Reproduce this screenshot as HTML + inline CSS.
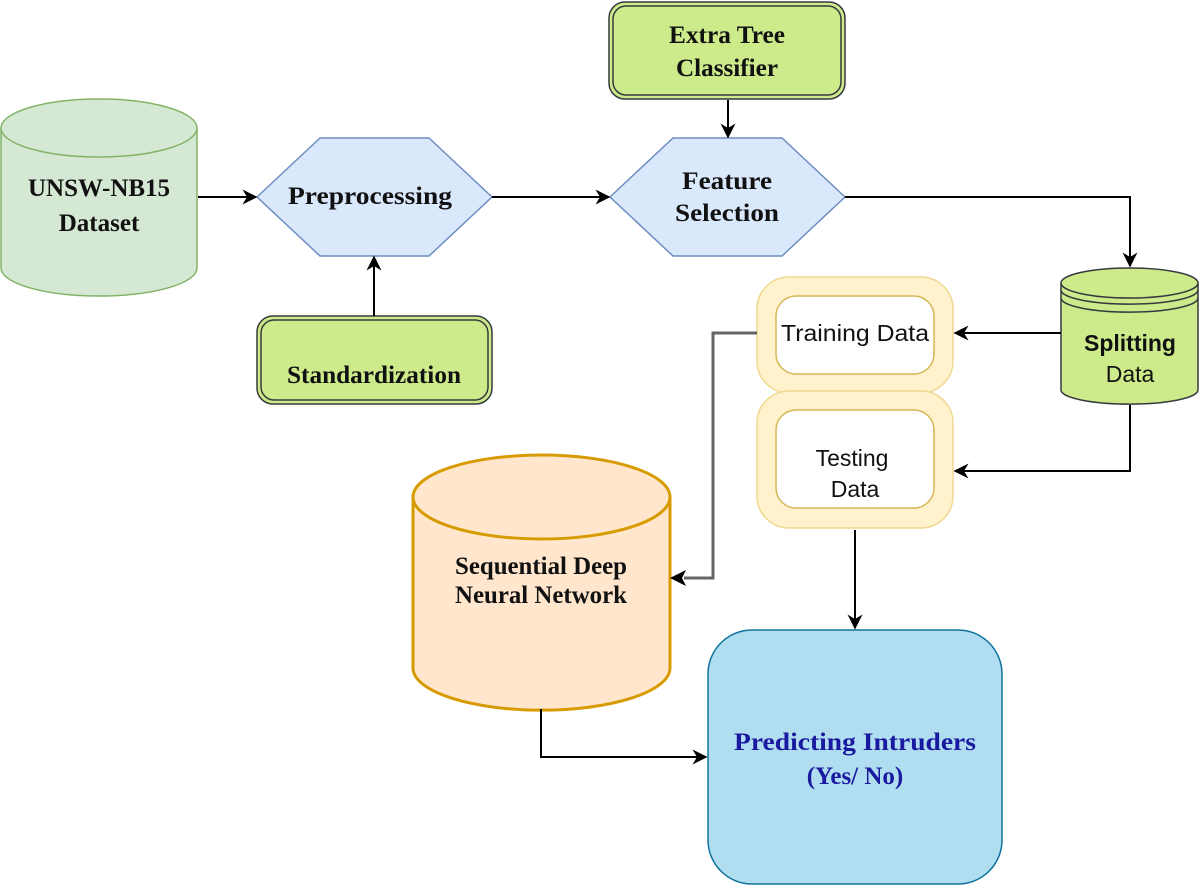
<!DOCTYPE html>
<html><head><meta charset="utf-8"><style>
html,body{margin:0;padding:0;background:#fff;width:1200px;height:886px;overflow:hidden}
svg{display:block}
.s{font-family:"Liberation Serif",serif;font-weight:bold;font-size:25px;fill:#111;text-anchor:middle}
.a{font-family:"Liberation Sans",sans-serif;font-size:23px;fill:#111;text-anchor:middle}
</style></head><body>
<svg width="1200" height="886" viewBox="0 0 1200 886">
<defs>
<marker id="m2" viewBox="0 0 10 10" refX="9" refY="5" markerWidth="15" markerHeight="15" orient="auto" markerUnits="userSpaceOnUse"><path d="M0,0 L10,5 L0,10 L3,5 Z" fill="#000"/></marker></defs>

<!-- UNSW cylinder -->
<path d="M1,128 L1,268 A98,28 0 0 0 197,268 L197,128" fill="#d5e8d4" stroke="#82b366" stroke-width="1.5"/>
<ellipse cx="99" cy="128" rx="98" ry="29" fill="#d5e8d4" stroke="#82b366" stroke-width="1.5"/>
<text class="s" x="99" y="196" font-size="24" textLength="142" lengthAdjust="spacingAndGlyphs">UNSW-NB15</text>
<text class="s" x="99" y="231" font-size="24">Dataset</text>

<!-- Preprocessing -->
<polygon points="257,197 320,138 429,138 492,197 429,256 320,256" fill="#dae8fc" stroke="#6c8ebf" stroke-width="1.5"/>
<text class="s" x="370" y="204" textLength="164" lengthAdjust="spacingAndGlyphs">Preprocessing</text>

<!-- Standardization -->
<rect x="257" y="316" width="235" height="88" rx="16" fill="#cdeb8b" stroke="#36393d" stroke-width="1.5"/>
<rect x="261" y="320" width="227" height="80" rx="13" fill="none" stroke="#36393d" stroke-width="1.5"/>
<text class="s" x="374" y="383" font-size="24" textLength="174" lengthAdjust="spacingAndGlyphs">Standardization</text>

<!-- Extra Tree -->
<rect x="609" y="2" width="236" height="97" rx="16" fill="#cdeb8b" stroke="#36393d" stroke-width="1.5"/>
<rect x="613" y="6" width="228" height="89" rx="13" fill="none" stroke="#36393d" stroke-width="1.5"/>
<text class="s" x="727" y="43" font-size="24" textLength="116" lengthAdjust="spacingAndGlyphs">Extra Tree</text>
<text class="s" x="727" y="76" font-size="24" textLength="102" lengthAdjust="spacingAndGlyphs">Classifier</text>

<!-- Feature Selection -->
<polygon points="610,197 673,138 782,138 845,197 782,256 673,256" fill="#dae8fc" stroke="#6c8ebf" stroke-width="1.5"/>
<text class="s" x="727" y="189" textLength="90" lengthAdjust="spacingAndGlyphs">Feature</text>
<text class="s" x="727" y="221" textLength="104" lengthAdjust="spacingAndGlyphs">Selection</text>

<!-- Splitting Data -->
<path d="M1061,283 L1061,390 A68,14 0 0 0 1198,390 L1198,283" fill="#cdeb8b" stroke="#36393d" stroke-width="1.5"/>
<ellipse cx="1129.5" cy="283" rx="68.5" ry="15" fill="#cdeb8b" stroke="#36393d" stroke-width="1.5"/>
<path d="M1061,290 A68,14 0 0 0 1198,290 M1061,298 A68,14 0 0 0 1198,298" fill="none" stroke="#36393d" stroke-width="1.5"/>
<text class="a" x="1130" y="351" font-size="22" font-weight="bold">Splitting</text>
<text class="a" x="1130" y="382" font-size="22">Data</text>

<!-- Training Data -->
<rect x="757" y="277" width="196" height="116" rx="32" fill="#fff2cc" stroke="#f0d890" stroke-width="1.5"/>
<rect x="776" y="296" width="158" height="78" rx="20" fill="#fff" stroke="#d6b656" stroke-width="1.5"/>
<text class="a" x="855" y="341" textLength="148" lengthAdjust="spacingAndGlyphs">Training Data</text>

<!-- Testing Data -->
<rect x="757" y="391" width="196" height="137" rx="32" fill="#fff2cc" stroke="#f0d890" stroke-width="1.5"/>
<rect x="776" y="410" width="158" height="98" rx="20" fill="#fff" stroke="#d6b656" stroke-width="1.5"/>
<text class="a" x="852" y="466">Testing</text>
<text class="a" x="855" y="497">Data</text>

<!-- SDNN -->
<path d="M413,497 L413,668 A128,42 0 0 0 670,668 L670,497" fill="#ffe6cc" stroke="#d79b00" stroke-width="3"/>
<ellipse cx="541.5" cy="497" rx="128.5" ry="42" fill="#ffe6cc" stroke="#d79b00" stroke-width="3"/>
<text class="s" x="541" y="574" textLength="172" lengthAdjust="spacingAndGlyphs">Sequential Deep</text>
<text class="s" x="541" y="603" textLength="172" lengthAdjust="spacingAndGlyphs">Neural Network</text>

<!-- Predicting -->
<rect x="708" y="630" width="294" height="254" rx="44" fill="#b1ddf0" stroke="#10739e" stroke-width="1.5"/>
<text class="s" x="855" y="750" style="fill:#1a1aa0" textLength="242" lengthAdjust="spacingAndGlyphs">Predicting Intruders</text>
<text class="s" x="855" y="784" style="fill:#1a1aa0">(Yes/ No)</text>

<!-- connectors -->
<g fill="none" stroke="#000" stroke-width="2">
<line x1="198" y1="197" x2="256" y2="197" marker-end="url(#m2)"/>
<line x1="374" y1="316" x2="374" y2="257" marker-end="url(#m2)"/>
<line x1="492" y1="197" x2="609" y2="197" marker-end="url(#m2)"/>
<line x1="728" y1="100" x2="728" y2="137" marker-end="url(#m2)"/>
<polyline points="845,197 1130,197 1130,266" marker-end="url(#m2)"/>
<line x1="1061" y1="333" x2="955" y2="333" marker-end="url(#m2)"/>
<polyline points="1130,405 1130,471 955,471" marker-end="url(#m2)"/>
<line x1="855" y1="530" x2="855" y2="628" marker-end="url(#m2)"/>
<polyline points="541,709 541,757 706,757" marker-end="url(#m2)"/>
</g>
<polyline points="757,333 713,333 713,578 684,578" fill="none" stroke="#666" stroke-width="3"/>
<path d="M670,578 L686,570 L682,578 L686,586 Z" fill="#000"/>
</svg>
</body></html>
